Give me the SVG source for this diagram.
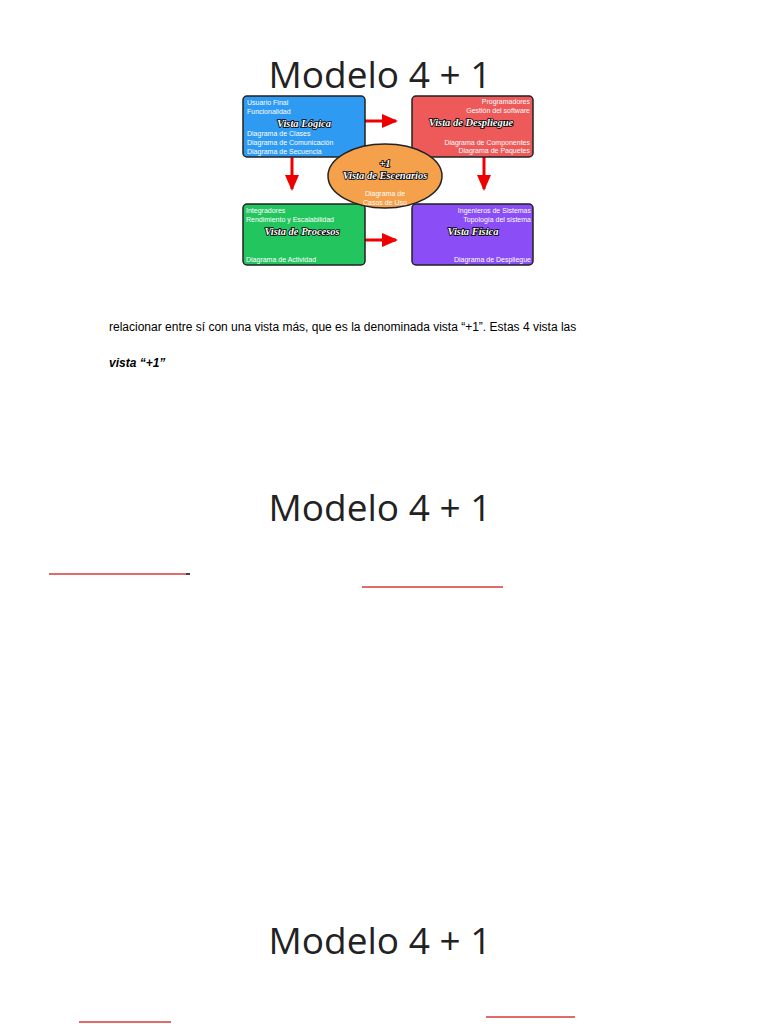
<svg xmlns="http://www.w3.org/2000/svg" width="768" height="1024" viewBox="0 0 768 1024">
<style>
.t{font-family:"Open Sans","Liberation Sans",sans-serif;font-size:37px;fill:#222}
.s{font-family:"Liberation Sans",Arial,sans-serif;font-size:7px;fill:#fff}
.v{font-family:"Liberation Serif",serif;font-size:10.5px;font-weight:bold;font-style:italic;fill:#fff;stroke:#000;stroke-width:1.6;paint-order:stroke}
.b{stroke:#222;stroke-width:1.5}
.p{font-family:"Liberation Sans",Arial,sans-serif;font-size:12px;fill:#000}
.a{stroke:#e00;stroke-width:3;fill:none;marker-end:url(#ah)}
.r{stroke:#d63a3a;stroke-width:1.5}
</style>
<defs><marker id="ah" markerWidth="8" markerHeight="8" refX="6" refY="4" orient="auto" markerUnits="userSpaceOnUse"><path d="M0,0L8,4L0,8z" fill="#e00" stroke="#900" stroke-width="0.5" transform="scale(1)"/></marker>
<marker id="ah2" markerWidth="16" markerHeight="14" refX="14" refY="7" orient="auto" markerUnits="userSpaceOnUse"><path d="M0,0L16,7L0,14z" fill="#e00"/></marker></defs>
<rect width="768" height="1024" fill="#fff"/>
<text class="t" x="380" y="88" text-anchor="middle">Modelo 4 + 1</text>
<g id="connectors" stroke="#e00" stroke-width="3">
<line x1="365" y1="121" x2="396" y2="121" marker-end="url(#ah2)"/>
<line x1="365" y1="240" x2="396" y2="240" marker-end="url(#ah2)"/>
<line x1="292" y1="157" x2="292" y2="189" marker-end="url(#ah2)"/>
<line x1="484" y1="157" x2="484" y2="189" marker-end="url(#ah2)"/>
</g>
<g id="logica"><rect class="b" x="243" y="96" width="122" height="61" rx="4" fill="#2e9af2"/>
<text class="s" x="247" y="105">Usuario Final</text><text class="s" x="247" y="114">Funcionalidad</text>
<text class="v" x="304" y="127" text-anchor="middle">Vista Lógica</text>
<text class="s" x="247" y="136">Diagrama de Clases</text><text class="s" x="247" y="145">Diagrama de Comunicación</text><text class="s" x="247" y="154">Diagrama de Secuencia</text></g>
<g id="despliegue"><rect class="b" x="412" y="96" width="121" height="61" rx="4" fill="#ee5a5a"/>
<text class="s" x="530" y="104" text-anchor="end">Programadores</text><text class="s" x="530" y="113" text-anchor="end">Gestión del software</text>
<text class="v" x="471" y="126" text-anchor="middle">Vista de Despliegue</text>
<text class="s" x="530" y="145" text-anchor="end">Diagrama de Componentes</text><text class="s" x="530" y="153" text-anchor="end">Diagrama de Paquetes</text></g>
<g id="procesos"><rect class="b" x="243" y="204" width="122" height="61" rx="4" fill="#22c55e"/>
<text class="s" x="246" y="213">Integradores</text><text class="s" x="246" y="222">Rendimiento y Escalabilidad</text>
<text class="v" x="302" y="235" text-anchor="middle">Vista de Procesos</text>
<text class="s" x="246" y="262">Diagrama de Actividad</text></g>
<g id="fisica"><rect class="b" x="412" y="204" width="121" height="61" rx="4" fill="#8b4df5"/>
<text class="s" x="531" y="213" text-anchor="end">Ingenieros de Sistemas</text><text class="s" x="531" y="222" text-anchor="end">Topología del sistema</text>
<text class="v" x="473" y="235" text-anchor="middle">Vista Física</text>
<text class="s" x="531" y="262" text-anchor="end">Diagrama de Despliegue</text></g>
<g id="escenarios"><ellipse class="b" cx="385" cy="176" rx="57" ry="32" fill="#f5a04a"/>
<text class="v" x="385" y="167" text-anchor="middle">+1</text>
<text class="v" x="385" y="179" text-anchor="middle">Vista de Escenarios</text>
<text class="s" x="385" y="196" text-anchor="middle">Diagrama de</text><text class="s" x="385" y="205" text-anchor="middle">Casos de Uso</text></g>
<text class="p" x="109" y="331">relacionar entre sí con una vista más, que es la denominada vista “+1”. Estas 4 vista las</text>
<text class="p" x="109" y="367" font-weight="bold" font-style="italic">vista “+1”</text>
<text class="t" x="380" y="521" text-anchor="middle">Modelo 4 + 1</text>
<line class="r" x1="49" y1="574" x2="186" y2="574"/><line x1="186" y1="574" x2="190" y2="574" stroke="#000" stroke-width="1.5"/>
<line class="r" x1="362" y1="587" x2="503" y2="587"/>
<text class="t" x="380" y="954" text-anchor="middle">Modelo 4 + 1</text>
<line class="r" x1="79" y1="1022" x2="171" y2="1022"/>
<line class="r" x1="486" y1="1017" x2="575" y2="1017"/>
</svg>
